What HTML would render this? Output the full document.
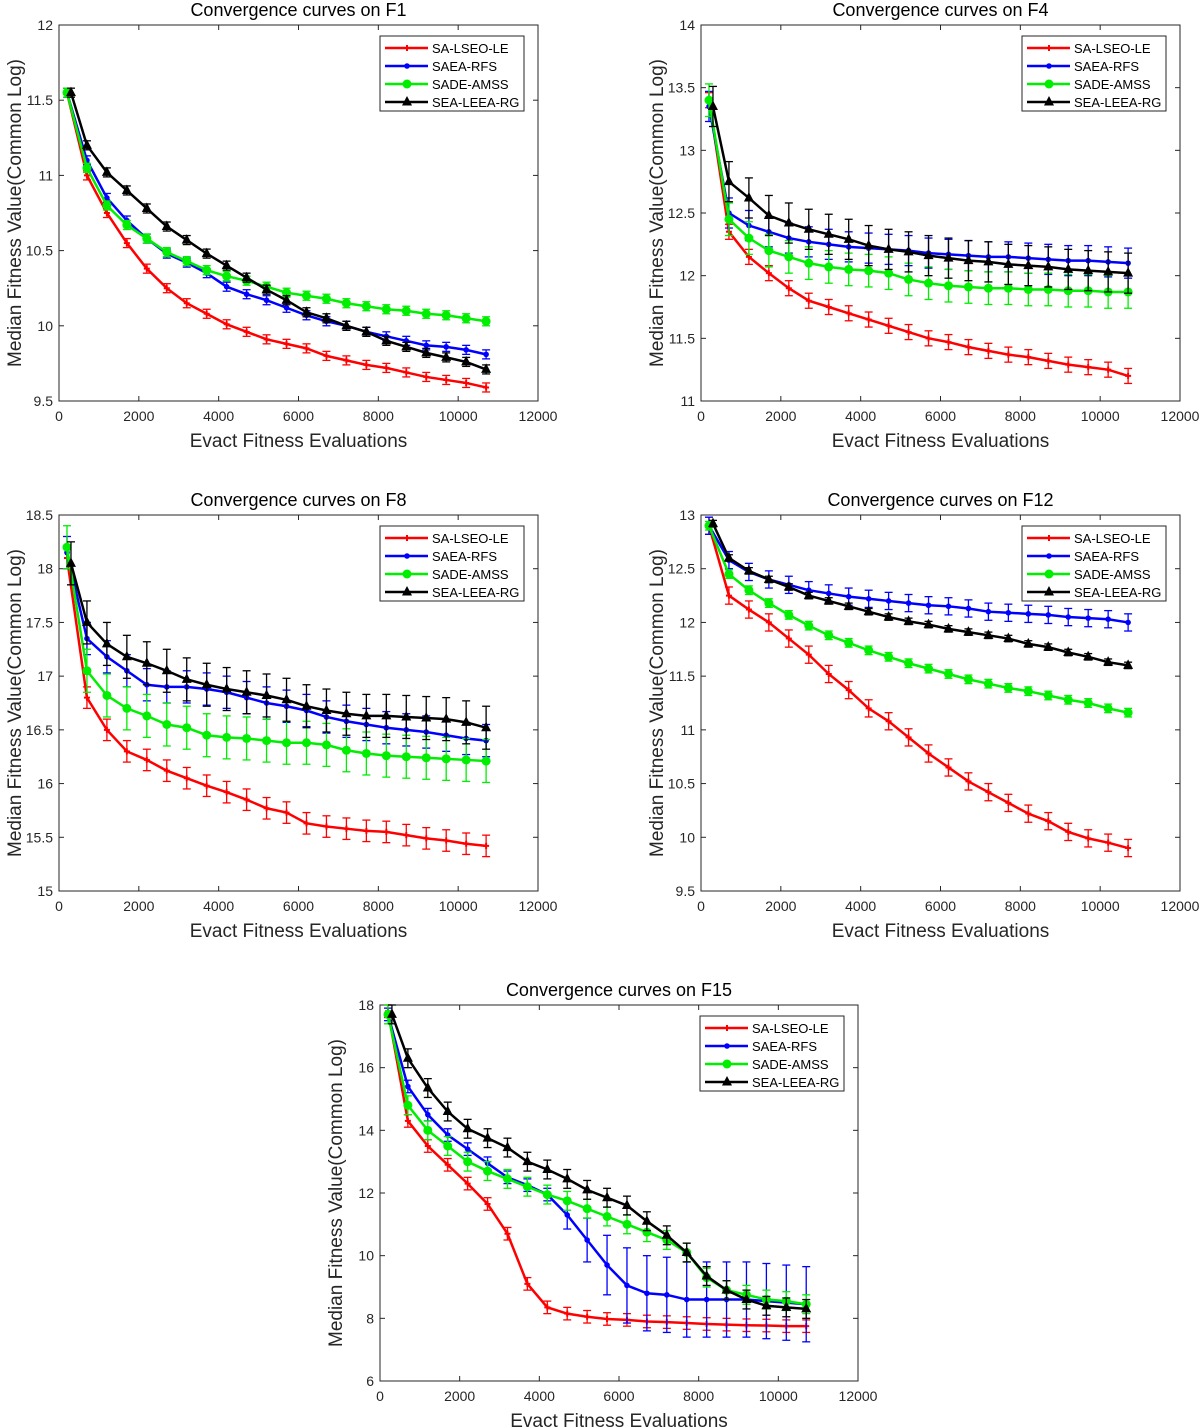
<!DOCTYPE html>
<html><head><meta charset="utf-8"><style>
body{margin:0;background:#fff;}
svg{display:block;font-family:"Liberation Sans",sans-serif;}
</style></head><body>
<svg id="fig" width="1200" height="1428"></svg>
<script>
const xs = [200,700,1200,1700,2200,2700,3200,3700,4200,4700,5200,5700,6200,6700,7200,7700,8200,8700,9200,9700,10200,10700];
const seriesNames = ["SA-LSEO-LE","SAEA-RFS","SADE-AMSS","SEA-LEEA-RG"];
const xTicks = [0,2000,4000,6000,8000,10000,12000];
// F1
const f1Red = [11.55,11.0,10.75,10.55,10.38,10.25,10.15,10.08,10.01,9.96,9.91,9.88,9.85,9.80,9.77,9.74,9.72,9.69,9.66,9.64,9.62,9.59];
const f1Blue = [11.55,11.1,10.85,10.7,10.58,10.48,10.42,10.35,10.26,10.21,10.17,10.12,10.07,10.03,10.0,9.96,9.93,9.9,9.87,9.86,9.84,9.81];
const f1Green = [11.55,11.05,10.8,10.67,10.58,10.49,10.43,10.37,10.33,10.30,10.26,10.22,10.2,10.18,10.15,10.13,10.11,10.1,10.08,10.07,10.05,10.03];
const f1Black = [11.55,11.2,11.02,10.9,10.78,10.66,10.57,10.48,10.40,10.32,10.24,10.17,10.09,10.05,10.0,9.96,9.9,9.86,9.82,9.79,9.76,9.71];
const f1Err = [0.03,0.03,0.03,0.03];
const f1YTicks = [9.5,10,10.5,11,11.5,12];
// F4
const f4Red = [13.4,12.35,12.15,12.02,11.9,11.8,11.75,11.7,11.65,11.6,11.55,11.5,11.47,11.43,11.4,11.37,11.35,11.32,11.29,11.27,11.25,11.2];
const f4Blue = [13.35,12.5,12.4,12.35,12.3,12.27,12.25,12.23,12.22,12.21,12.2,12.18,12.17,12.16,12.15,12.15,12.14,12.13,12.12,12.12,12.11,12.1];
const f4Green = [13.4,12.45,12.3,12.2,12.15,12.1,12.07,12.05,12.04,12.02,11.97,11.94,11.92,11.91,11.9,11.9,11.89,11.89,11.88,11.88,11.87,11.87];
const f4Black = [13.35,12.75,12.62,12.48,12.42,12.37,12.33,12.29,12.24,12.21,12.19,12.16,12.14,12.12,12.11,12.09,12.08,12.07,12.05,12.04,12.03,12.02];
const f4Err = [0.06,0.12,0.13,0.16];
const f4YTicks = [11,11.5,12,12.5,13,13.5,14];
// F8
const f8Red = [18.1,16.8,16.5,16.3,16.22,16.12,16.05,15.98,15.92,15.85,15.77,15.73,15.63,15.6,15.58,15.56,15.55,15.52,15.49,15.47,15.44,15.42];
const f8Blue = [18.15,17.35,17.18,17.05,16.92,16.9,16.9,16.88,16.85,16.8,16.75,16.72,16.68,16.62,16.58,16.55,16.52,16.5,16.48,16.45,16.42,16.4];
const f8Green = [18.2,17.05,16.82,16.7,16.63,16.55,16.52,16.45,16.43,16.42,16.4,16.38,16.38,16.36,16.31,16.28,16.26,16.25,16.24,16.23,16.22,16.21];
const f8Black = [18.05,17.5,17.3,17.18,17.12,17.05,16.97,16.92,16.88,16.85,16.82,16.78,16.72,16.68,16.65,16.63,16.63,16.62,16.61,16.6,16.57,16.52];
const f8Err = [0.1,0.15,0.2,0.2];
const f8YTicks = [15,15.5,16,16.5,17,17.5,18,18.5];
// F12
const f12Red = [12.9,12.25,12.12,12.0,11.85,11.7,11.52,11.37,11.2,11.08,10.93,10.78,10.65,10.52,10.42,10.32,10.22,10.15,10.05,9.99,9.95,9.9];
const f12Blue = [12.9,12.58,12.47,12.4,12.35,12.3,12.27,12.24,12.22,12.2,12.18,12.16,12.15,12.13,12.1,12.09,12.08,12.07,12.05,12.04,12.03,12.0];
const f12Green = [12.9,12.45,12.3,12.18,12.07,11.97,11.88,11.81,11.74,11.68,11.62,11.57,11.52,11.47,11.43,11.39,11.36,11.32,11.28,11.25,11.2,11.16];
const f12Black = [12.92,12.6,12.48,12.4,12.33,12.25,12.2,12.15,12.1,12.05,12.01,11.98,11.94,11.91,11.88,11.85,11.8,11.77,11.72,11.68,11.63,11.6];
const f12Err = [0.08,0.08,0.04,0.03];
const f12YTicks = [9.5,10,10.5,11,11.5,12,12.5,13];
// F15
const f15Red = [17.8,14.3,13.5,12.9,12.3,11.65,10.7,9.1,8.35,8.15,8.05,7.98,7.95,7.9,7.88,7.85,7.82,7.8,7.78,7.77,7.75,7.75];
const f15Blue = [17.7,15.4,14.5,13.85,13.4,12.95,12.5,12.25,11.95,11.3,10.5,9.7,9.05,8.8,8.75,8.6,8.6,8.6,8.6,8.55,8.5,8.45];
const f15Green = [17.7,14.8,14.0,13.5,13.0,12.7,12.45,12.2,11.95,11.75,11.5,11.25,11.0,10.75,10.5,10.1,9.3,8.9,8.75,8.6,8.55,8.45];
const f15Black = [17.7,16.3,15.35,14.6,14.05,13.75,13.45,13.0,12.75,12.45,12.1,11.85,11.6,11.1,10.65,10.1,9.35,8.9,8.6,8.4,8.35,8.3];
const f15Err = [0.2,0.8,0.3,0.3];
const f15YTicks = [6,8,10,12,14,16,18];

const NS="http://www.w3.org/2000/svg";
const svg=document.getElementById('fig');
function mk(tag,attrs,parent){const e=document.createElementNS(NS,tag);for(const k in attrs)e.setAttribute(k,attrs[k]);(parent||svg).appendChild(e);return e;}
const colors=["#ff0000","#0000ff","#00ee00","#000000"];

function panel(id,title,L,T,W,H,ymin,ymax,yTicks,series,errs){
  const g=mk('g',{});
  
  
  const sx=v=>L+(v/12000)*W, sy=v=>T+H-(v-ymin)/(ymax-ymin)*H;
  const box=mk('rect',{x:L,y:T,width:W,height:H,fill:'#fff',stroke:'#262626','stroke-width':1},g);
  
  
  xTicks.forEach(t=>{const x=sx(t);
    mk('line',{x1:x,x2:x,y1:T+H,y2:T+H-5,stroke:'#262626'},g);
    mk('line',{x1:x,x2:x,y1:T,y2:T+5,stroke:'#262626'},g);
    const tx=mk('text',{x:x,y:T+H+20,'text-anchor':'middle','font-size':14,fill:'#262626'},g);tx.textContent=t;
    
    
  });
  yTicks.forEach(t=>{const y=sy(t);
    mk('line',{x1:L,x2:L+5,y1:y,y2:y,stroke:'#262626'},g);
    mk('line',{x1:L+W,x2:L+W-5,y1:y,y2:y,stroke:'#262626'},g);
    const tx=mk('text',{x:L-6,y:y+5,'text-anchor':'end','font-size':14,fill:'#262626'},g);tx.textContent=t;
    
    
  });
  const tt=mk('text',{x:L+W/2,y:T-9,'text-anchor':'middle','font-size':18,fill:'#000'},g);tt.textContent=title;
  
  
  const xl=mk('text',{x:L+W/2,y:T+H+46,'text-anchor':'middle','font-size':19,fill:'#262626'},g);xl.textContent='Evact Fitness Evaluations';
  
  
  const yl=mk('text',{x:0,y:0,'text-anchor':'middle','font-size':19,fill:'#262626',transform:`translate(${L-38},${T+H/2}) rotate(-90)`},g);yl.textContent='Median Fitness Value(Common Log)';
  
  
  series.forEach((vals,si)=>{
    const c=colors[si];
    const sg=mk('g',{},g);
    
    
    const xv=xs.map((x,i)=>(si===3&&i===0)?300:x);
    const pts=vals.map((v,i)=>sx(xv[i])+','+sy(v)).join(' ');
    mk('polyline',{points:pts,fill:'none',stroke:c,'stroke-width':2.5},sg);
    vals.forEach((v,i)=>{
      const x=sx(xv[i]),y=sy(v);
      let e=errs[si];
      if(id==='f15'&&si===1) e = i<8?0.2:Math.min(1.2,0.2+(i-8)*0.25);
      const y1=sy(v+e),y2=sy(v-e);
      mk('line',{x1:x,x2:x,y1:y1,y2:y2,stroke:c,'stroke-width':1.3},sg);
      mk('line',{x1:x-4,x2:x+4,y1:y1,y2:y1,stroke:c,'stroke-width':1.3},sg);
      mk('line',{x1:x-4,x2:x+4,y1:y2,y2:y2,stroke:c,'stroke-width':1.3},sg);
      let m;
      if(si===0) m=mk('path',{d:`M${x-3},${y}L${x+3},${y}M${x},${y-3}L${x},${y+3}`,stroke:c,'stroke-width':2},sg);
      else if(si===1) m=mk('circle',{cx:x,cy:y,r:2.8,fill:c},sg);
      else if(si===2) m=mk('circle',{cx:x,cy:y,r:4.5,fill:c},sg);
      else m=mk('path',{d:`M${x},${y-6}L${x+5},${y+3.5}L${x-5},${y+3.5}Z`,fill:c},sg);
      
      
    });
  });
  // legend
  const lx=L+W-158, ly=T+11;
  const lg=mk('g',{},g);
  
  
  mk('rect',{x:lx,y:ly,width:144,height:75,fill:'#fff',stroke:'#262626'},lg);
  seriesNames.forEach((n,si)=>{
    const y=ly+12+si*18, c=colors[si];
    const eg=mk('g',{},lg);
    
    
    mk('line',{x1:lx+5,x2:lx+48,y1:y,y2:y,stroke:c,'stroke-width':2.5},eg);
    const x=lx+27;
    if(si===0) mk('path',{d:`M${x-3},${y}L${x+3},${y}M${x},${y-3}L${x},${y+3}`,stroke:c,'stroke-width':2},eg);
    else if(si===1) mk('circle',{cx:x,cy:y,r:2.8,fill:c},eg);
    else if(si===2) mk('circle',{cx:x,cy:y,r:4.5,fill:c},eg);
    else mk('path',{d:`M${x},${y-6}L${x+5},${y+3.5}L${x-5},${y+3.5}Z`,fill:c},eg);
    const t=mk('text',{x:lx+52,y:y+5,'font-size':13,fill:'#000'},eg);t.textContent=n;
  });
}
panel('f1','Convergence curves on F1',59,25,479,376,9.5,12,f1YTicks,[f1Red,f1Blue,f1Green,f1Black],f1Err);
panel('f4','Convergence curves on F4',701,25,479,376,11,14,f4YTicks,[f4Red,f4Blue,f4Green,f4Black],f4Err);
panel('f8','Convergence curves on F8',59,515,479,376,15,18.5,f8YTicks,[f8Red,f8Blue,f8Green,f8Black],f8Err);
panel('f12','Convergence curves on F12',701,515,479,376,9.5,13,f12YTicks,[f12Red,f12Blue,f12Green,f12Black],f12Err);
panel('f15','Convergence curves on F15',380,1005,478,376,6,18,f15YTicks,[f15Red,f15Blue,f15Green,f15Black],f15Err);
</script>
</body></html>
